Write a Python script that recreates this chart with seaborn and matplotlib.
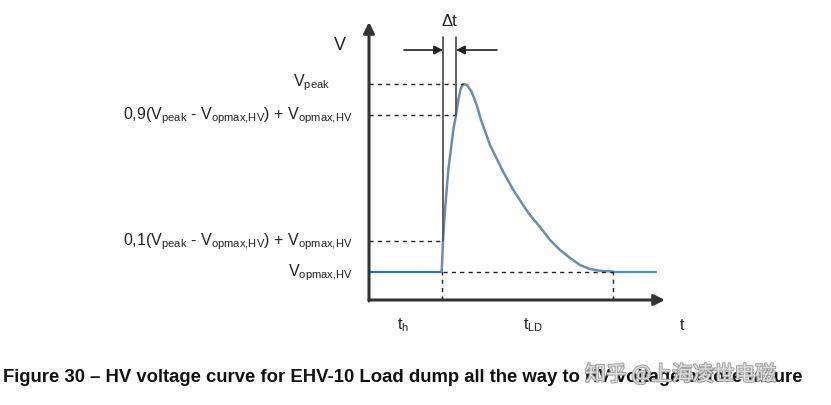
import numpy as np
import pandas as pd
import matplotlib
matplotlib.use("Agg")
import matplotlib.pyplot as plt
import matplotlib.patheffects as pe
import seaborn as sns

# schematic units: time t (x) and voltage V (y)
base_t = [0.0, 7.27]
base_v = [2.85, 2.85]
pulse_t = [7.27, 7.4, 7.6, 7.93, 8.43, 8.7, 8.93, 9.17, 9.43, 9.8, 10.27, 10.77, 11.2,
           12.1, 13.43, 14.43, 15.6, 16.1, 17.1, 18.1, 19.1, 20.1, 21.1, 22.1, 23.1, 24.4]
pulse_v = [2.85, 5.9, 9.0, 13.0, 17.0, 18.5, 20.0, 21.15, 21.6, 21.5, 20.8, 19.5, 18.0,
           15.5, 12.8, 11.0, 9.2, 8.5, 7.3, 6.0, 5.0, 4.2, 3.5, 3.1, 2.92, 2.85]
tail_t = [24.4, 28.7]
tail_v = [2.85, 2.85]

v_op = 2.85
v_10 = 5.9
v_90 = 18.5
v_peak = 21.6
t_start = 7.4
t_90 = 8.7
t_peak = 9.4
t_end = 24.4

level_labels = [r"0,9($\mathregular{V_{peak}}$ - $\mathregular{V_{opmax{,}HV}}$) + $\mathregular{V_{opmax{,}HV}}$",
                r"0,1($\mathregular{V_{peak}}$ - $\mathregular{V_{opmax{,}HV}}$) + $\mathregular{V_{opmax{,}HV}}$",
                r"$\mathregular{V_{opmax{,}HV}}$"]
level_values = [v_90, v_10, v_op]

sns.set_theme(style="white")
plt.rcParams['font.family'] = ['Liberation Sans', 'DejaVu Sans']

fig = plt.figure(figsize=(8.31, 4.05), dpi=100)
ax = fig.add_axes([0, 0, 1, 1])
ax.set_xlim(-36.9, 46.2)
ax.set_ylim(-10.5, 30.0)
ax.axis('off')

sns.lineplot(x=base_t, y=base_v, color="#2e6fb7", lw=1.6, sort=False, estimator=None, ax=ax)
sns.lineplot(x=pulse_t, y=pulse_v, color="#6a8cb4", lw=1.8, sort=False, estimator=None, ax=ax)
sns.lineplot(x=tail_t, y=tail_v, color="#4a8fd0", lw=1.6, sort=False, estimator=None, ax=ax)

# axes with arrows
arr = dict(arrowstyle="-|>", lw=2.2, color="#333333", mutation_scale=16, shrinkA=0, shrinkB=0)
ax.annotate("", xy=(29.6, 0), xytext=(0, 0), arrowprops=arr)
ax.annotate("", xy=(0, 27.8), xytext=(0, -0.1), arrowprops=arr)

# dashed helper lines
dash = dict(color="#222222", lw=1.0, ls=(0, (3, 3)))
ax.plot([0, t_peak], [v_peak, v_peak], **dash)
ax.plot([0, t_90], [v_90, v_90], **dash)
ax.plot([0, t_start], [v_10, v_10], **dash)
ax.plot([t_start, t_end], [v_op, v_op], **dash)
ax.plot([7.3, 7.3], [0, v_op], **dash)
ax.plot([t_end, t_end], [0, v_op], **dash)

# delta t markers
ax.plot([t_start, t_start], [v_10, 26.3], color="#555555", lw=1.3)
ax.plot([t_90, t_90], [v_90, 26.3], color="#555555", lw=1.3)
small = dict(arrowstyle="-|>", lw=1.2, color="#222222", mutation_scale=13, shrinkA=0, shrinkB=0)
ax.annotate("", xy=(t_start, 25.0), xytext=(3.5, 25.0), arrowprops=small)
ax.annotate("", xy=(t_90, 25.0), xytext=(12.8, 25.0), arrowprops=small)
ax.text(8.0, 27.8, "Δt", fontsize=12, ha="center", va="center", color="#222222")

# labels
fs = 11.5
ax.text(-2.9, 25.5, "V", fontsize=13, ha="center", va="center", color="#222222")
ax.text(-3.9, 21.7, r"$\mathregular{V_{peak}}$", fontsize=fs, ha="right", va="center", color="#222222")
for lab, val in zip(level_labels, level_values):
    ax.text(-1.6, val - 0.1, lab, fontsize=fs, ha="right", va="center", color="#222222")

ax.text(3.4, -2.5, r"$\mathregular{t_h}$", fontsize=fs, ha="center", va="center", color="#222222")
ax.text(16.4, -2.5, r"$\mathregular{t_{LD}}$", fontsize=fs, ha="center", va="center", color="#222222")
ax.text(31.3, -2.5, "t", fontsize=fs, ha="center", va="center", color="#222222")

fig.text(0.004, 0.067, "Figure 30 – HV voltage curve for EHV-10 Load dump all the way to HV voltage before failure",
         fontsize=13.3, fontweight="bold", ha="left", va="center", color="#111111")
fig.text(0.704, 0.075, "知乎 @上海凌世电磁", fontsize=15, ha="left", va="center", color="#e6e6e6",
         family=['Noto Sans CJK SC', 'DejaVu Sans'],
         path_effects=[pe.withStroke(linewidth=1.5, foreground="#9a9a9a")], alpha=0.9)

fig.savefig("out.png", dpi=100, facecolor="white")
